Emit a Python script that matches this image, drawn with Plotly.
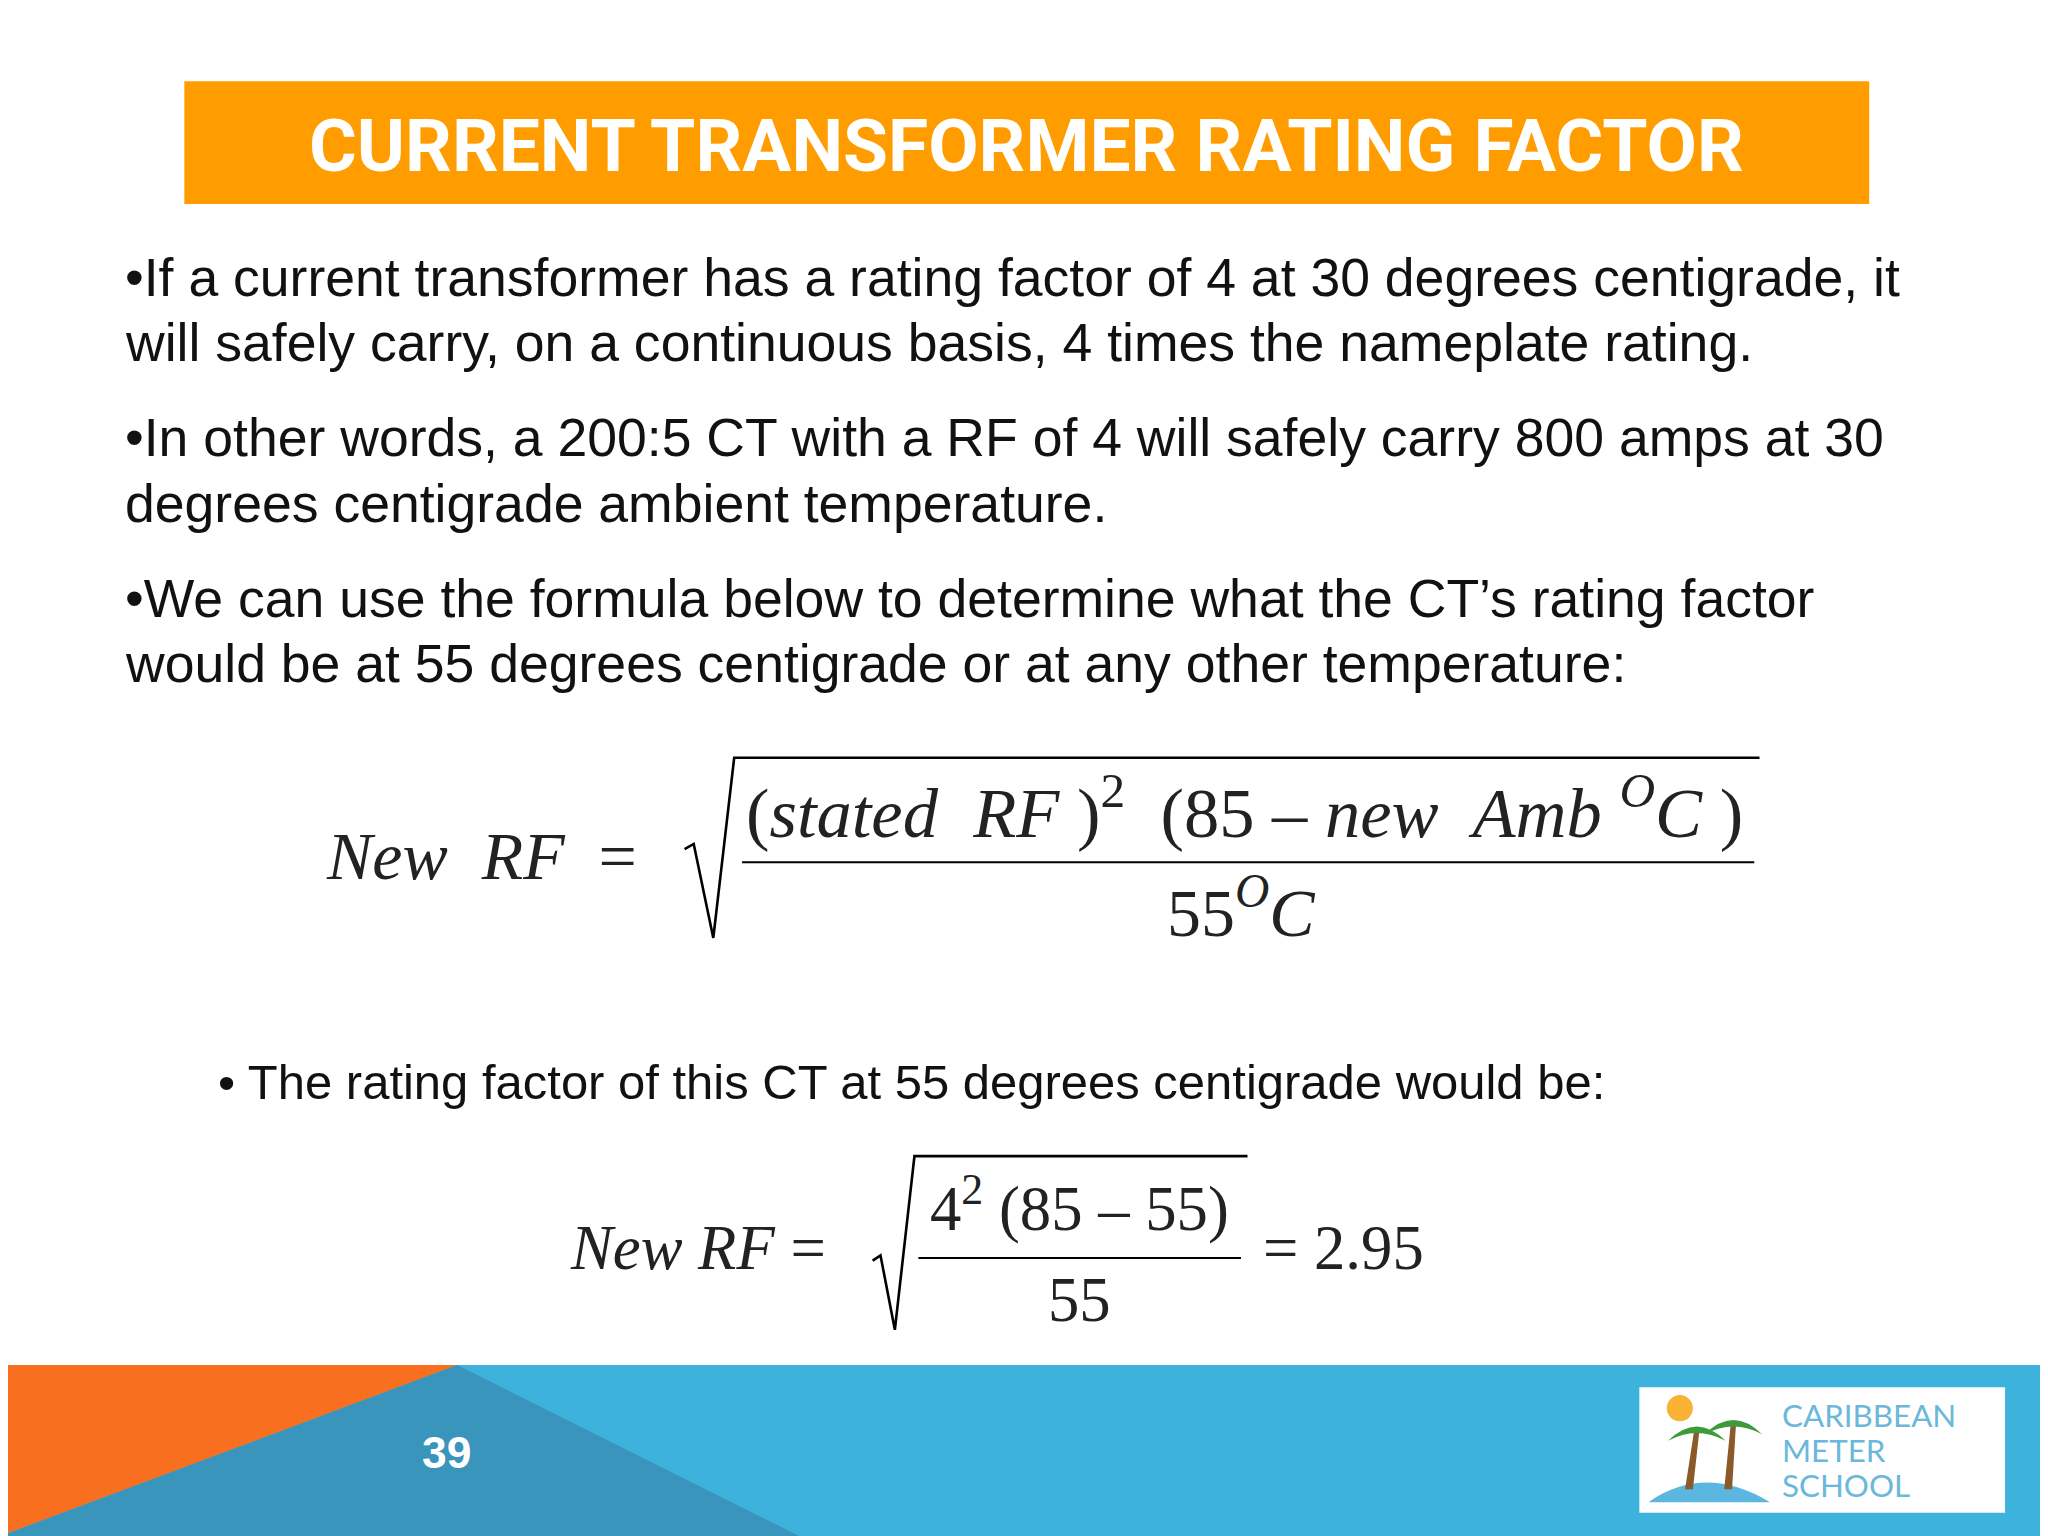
import plotly.graph_objects as go

W, H = 1568, 1176
S = 2048 / 1568
OFF = 6  # compensate page body margin

title = "CURRENT TRANSFORMER RATING FACTOR"
bullets = [
    ("•If a current transformer has a rating factor of 4 at 30 degrees centigrade, it", 212),
    ("will safely carry, on a continuous basis, 4 times the nameplate rating.", 262),
    ("•In other words, a 200:5 CT with a RF of 4 will safely carry 800 amps at 30", 335),
    ("degrees centigrade ambient temperature.", 385),
    ("•We can use the formula below to determine what the CT’s rating factor", 458),
    ("would be at 55 degrees centigrade or at any other temperature:", 508),
]
bullet4 = "• The rating factor of this CT at 55 degrees centigrade would be:"
page_no = "39"
logo_lines = ["CARIBBEAN", "METER", "SCHOOL"]

fig = go.Figure()
shapes = []
ann = []

def txt(x, y, t, size, color="black", family="Liberation Sans, Arial", xa="left", bold=False):
    if bold:
        t = "<b>" + t + "</b>"
    ann.append(dict(x=x, y=y, text=t, showarrow=False, xanchor=xa, yanchor="middle",
                    font=dict(size=size * S, color=color, family=family)))

def line(x0, y0, x1, y1, w=1.5, c="black"):
    shapes.append(dict(type="line", x0=x0, y0=y0, x1=x1, y1=y1, line=dict(color=c, width=w * S)))

# banner
shapes.append(dict(type="rect", x0=141, y0=62, x1=1431, y1=156, fillcolor="#FF9D00", line=dict(width=0)))
txt(786, 112, title, 56, "white", "Liberation Sans Narrow, Roboto, Arial", "center", True)

for t, y in bullets:
    txt(94, y, t, 41, "#111")

serif = "Liberation Serif, Times New Roman, serif"
# formula 1
txt(248, 655, "<i>New  RF</i>  =", 52, "#222", serif)
shapes.append(dict(type="path", path="M 524,650 L 531,646 L 546,718 L 562,580 L 1347,580",
                   line=dict(color="black", width=2 * S)))
txt(953, 618, "(<i>stated  RF</i> )<sup>2</sup>  (85 – <i>new  Amb</i> <sup><i>O</i></sup><i>C</i> )", 54, "#222", serif, "center")
line(568, 660, 1343, 660, 1.5)
txt(950, 695, "55<sup><i>O</i></sup><i>C</i>", 52, "#222", serif, "center")

# bullet 4
txt(165, 828, bullet4, 37.5, "#111")

# formula 2
txt(435, 955, "<i>New RF</i> =", 48, "#222", serif)
shapes.append(dict(type="path", path="M 668,965 L 674,961 L 685,1018 L 700,885 L 955,885",
                   line=dict(color="black", width=2 * S)))
txt(826, 922, "4<sup>2</sup> (85 – 55)", 48, "#222", serif, "center")
line(703, 963, 950, 963, 1.5)
txt(826, 995, "55", 48, "#222", serif, "center")
txt(965, 955, "= 2.95", 48, "#222", serif)

# footer
shapes.append(dict(type="rect", x0=0, y0=1045, x1=W + 40, y1=H + 40, fillcolor="#3CB2DC", line=dict(width=0)))
shapes.append(dict(type="path", path="M 0,1045 L 350,1045 L 0,1176 L 0,1220 Z", fillcolor="#F76F1F", line=dict(width=0)))
shapes.append(dict(type="path", path="M 350,1045 L 612,1176 L 640,1220 L 0,1220 L 0,1176 Z", fillcolor="#3A95BC", line=dict(width=0)))
txt(342, 1112, page_no, 34, "white", "Liberation Sans, Arial", "center", True)

# logo
shapes.append(dict(type="rect", x0=1255, y0=1062, x1=1535, y1=1158, fillcolor="white", line=dict(width=0)))
shapes.append(dict(type="circle", x0=1276, y0=1068, x1=1296, y1=1088, fillcolor="#F9B233", line=dict(width=0)))
shapes.append(dict(type="path", path="M 1262,1150 Q 1305,1120 1355,1150 Z", fillcolor="#5BB6E0", line=dict(width=0)))
shapes.append(dict(type="path", path="M 1290,1140 L 1297,1095 L 1301,1095 L 1296,1140 Z", fillcolor="#8B5A2B", line=dict(width=0)))
shapes.append(dict(type="path", path="M 1320,1140 L 1325,1090 L 1329,1090 L 1326,1140 Z", fillcolor="#8B5A2B", line=dict(width=0)))
for cx, cy in [(1299, 1095), (1327, 1090)]:
    shapes.append(dict(type="path", path=f"M {cx-22},{cy+8} Q {cx},{cy-14} {cx+22},{cy+8} Q {cx},{cy-4} {cx-22},{cy+8} Z",
                       fillcolor="#3E9B3A", line=dict(width=0)))
for i, t in enumerate(logo_lines):
    txt(1363, 1083 + i * 27, t, 24, "#6BB8DA", "DejaVu Sans ExtraLight, Lato, Arial")

fig.update_layout(width=2048, height=1536, margin=dict(l=0, r=0, t=0, b=0),
                  plot_bgcolor="white", paper_bgcolor="white",
                  xaxis=dict(range=[OFF, W + OFF], visible=False, fixedrange=True),
                  yaxis=dict(range=[H + OFF, OFF], visible=False, fixedrange=True),
                  shapes=shapes, annotations=ann, showlegend=False)
fig.write_html("out.html")
